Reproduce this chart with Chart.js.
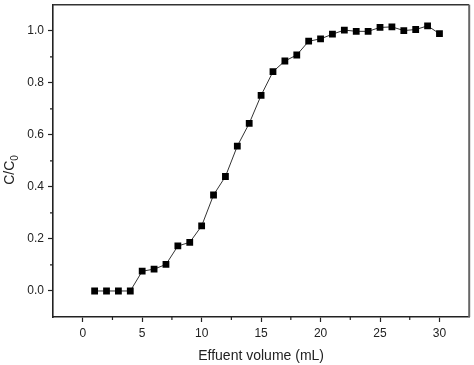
<!DOCTYPE html>
<html>
<head>
<meta charset="utf-8">
<script src="https://cdn.jsdelivr.net/npm/chart.js@4"></script>
<style>
  body { margin: 0; background: #fff; }
  #wrap { width: 474px; height: 365px; }
</style>
</head>
<body>
<div id="wrap"><canvas id="curve" width="474" height="365"></canvas></div>
<script>
// DATA
const volume = [1, 2, 3, 4, 5, 6, 7, 8, 9, 10, 11, 12, 13, 14, 15,
  16, 17, 18, 19, 20, 21, 22, 23, 24, 25, 26, 27, 28, 29, 30];
const ratio = [0, 0, 0, 0, 0.076, 0.084, 0.102, 0.173, 0.187, 0.25, 0.369, 0.44, 0.557, 0.644, 0.752,
  0.843, 0.884, 0.907, 0.96, 0.969, 0.987, 1.003, 0.998, 0.998, 1.013, 1.015, 1.001, 1.005, 1.019, 0.989];
const xTicks = [0, 5, 10, 15, 20, 25, 30];
const yTicks = [0, 0.2, 0.4, 0.6, 0.8, 1.0];
const xMinor = [-2.5, 2.5, 7.5, 12.5, 17.5, 22.5, 27.5, 32.5];
const yMinor = [-0.1, 0.1, 0.3, 0.5, 0.7, 0.9, 1.1];

const FONT = "'Liberation Sans', Arial, sans-serif";
const INK = "#222";

// frame, minor ticks and the C/C0 title
const extras = {
  id: "extras",
  afterDraw(chart) {
    const ctx = chart.ctx;
    const a = chart.chartArea;
    const xs = chart.scales.x, ys = chart.scales.y;
    ctx.save();
    ctx.strokeStyle = "#333";
    ctx.lineWidth = 1.5;
    ctx.beginPath();
    ctx.moveTo(a.left, a.top);
    ctx.lineTo(a.right, a.top);
    ctx.stroke();
    ctx.strokeStyle = "#666";
    ctx.lineWidth = 2;
    ctx.beginPath();
    ctx.moveTo(a.right, a.top);
    ctx.lineTo(a.right, a.bottom);
    ctx.stroke();

    ctx.strokeStyle = INK;
    ctx.lineWidth = 1.2;
    ctx.beginPath();
    xMinor.forEach(v => {
      const px = xs.getPixelForValue(v);
      if (px > a.left + 1 && px < a.right - 1) {
        ctx.moveTo(px, a.bottom);
        ctx.lineTo(px, a.bottom + 3);
      }
    });
    yMinor.forEach(v => {
      const py = ys.getPixelForValue(v);
      if (py > a.top + 1 && py < a.bottom - 1) {
        ctx.moveTo(a.left, py);
        ctx.lineTo(a.left - 3, py);
      }
    });
    ctx.stroke();

    ctx.translate(10, 170);
    ctx.rotate(-Math.PI / 2);
    ctx.fillStyle = INK;
    ctx.textBaseline = "middle";
    ctx.font = "14px " + FONT;
    const main = "C/C";
    const w = ctx.measureText(main).width;
    ctx.font = "10px " + FONT;
    const ws = ctx.measureText("0").width;
    const x0 = -(w + ws) / 2;
    ctx.font = "14px " + FONT;
    ctx.textAlign = "left";
    ctx.fillText(main, x0, 0);
    ctx.font = "10px " + FONT;
    ctx.fillText("0", x0 + w, 5);
    ctx.restore();
  }
};

new Chart(document.getElementById("curve"), {
  type: "line",
  data: {
    datasets: [{
      data: volume.map((v, i) => ({ x: v, y: ratio[i] })),
      borderColor: "#333",
      borderWidth: 1,
      pointStyle: "rect",
      pointRadius: 4.8,
      pointBackgroundColor: "#000",
      pointBorderColor: "#000",
      pointBorderWidth: 0,
      tension: 0
    }]
  },
  options: {
    responsive: false,
    animation: false,
    layout: { padding: { top: 3, right: 3, left: 0, bottom: 0 } },
    plugins: { legend: { display: false }, tooltip: { enabled: false } },
    scales: {
      x: {
        type: "linear",
        min: -2.5,
        max: 32.5,
        afterBuildTicks: s => { s.ticks = xTicks.map(v => ({ value: v })); },
        afterFit: s => { s.height = 48; s.paddingLeft = 0; s.paddingRight = 0; },
        ticks: { color: INK, font: { family: FONT, size: 12 }, padding: 4, maxRotation: 0 },
        grid: { drawOnChartArea: false, drawTicks: true, tickLength: 5, tickColor: INK, tickWidth: 1.2 },
        border: { display: true, color: INK, width: 1.6 },
        title: {
          display: true,
          text: "Effuent volume (mL)",
          color: INK,
          font: { family: FONT, size: 14 },
          padding: { top: 0, bottom: 0 }
        }
      },
      y: {
        type: "linear",
        min: -0.1,
        max: 1.1,
        afterBuildTicks: s => { s.ticks = yTicks.map(v => ({ value: v })); },
        afterFit: s => { s.width = 53; s.paddingTop = 0; s.paddingBottom = 0; },
        ticks: {
          color: INK,
          font: { family: FONT, size: 12 },
          padding: 4,
          callback: v => v.toFixed(1)
        },
        grid: { drawOnChartArea: false, drawTicks: true, tickLength: 5, tickColor: INK, tickWidth: 1.2 },
        border: { display: true, color: INK, width: 1.6 }
      }
    }
  },
  plugins: [extras]
});
</script>
</body>
</html>
